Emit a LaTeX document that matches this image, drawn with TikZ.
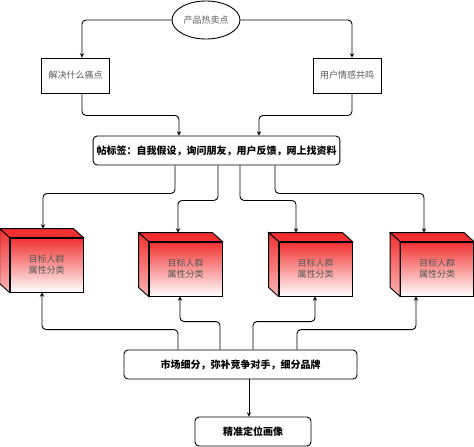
\documentclass[tikz,border=0pt]{standalone}
\usepackage{fontspec}
\setmainfont{Noto Sans CJK SC}
\usetikzlibrary{shapes.geometric}
\definecolor{cubered}{RGB}{242,48,48}
\definecolor{labelgray}{RGB}{90,90,90}

\tikzset{
  link/.style={->, line width=0.9pt, rounded corners=4pt},
  plainbox/.style={draw, line width=0.9pt, minimum width=68pt, minimum height=35pt, text=labelgray},
  roundbox/.style={draw, line width=0.9pt, rounded corners=4pt, minimum height=29pt, font=\bfseries},
  cubefront/.style={draw, line width=0.9pt, minimum width=73pt, minimum height=54pt,
    top color=cubered, bottom color=white, text=labelgray, align=center, inner sep=0pt},
}

\begin{document}
\begin{tikzpicture}[>=stealth, x=1pt, y=-1pt, font=\fontsize{9}{11}\selectfont]
  \useasboundingbox (0,0) rectangle (474,447);
  \node[ellipse, draw, line width=0.9pt, minimum width=68pt, minimum height=38pt, inner sep=0pt, text=labelgray] (hot) at (206,20) {产品热卖点};
  \node[plainbox] (pain) at (75.5,75.5) {解决什么痛点};
  \node[plainbox] (feel) at (347,75.5) {用户情感共鸣};
  \node[roundbox, minimum width=233pt] (tag) at (216.5,150.5) {帖标签：自我假设，询问朋友，用户反馈，网上找资料};
  % four target groups, drawn as boxes with depth
  \node[cubefront] (c1) at (46.5,265) {目标人群\\属性分类};
  \node[cubefront] (c2) at (185.5,269) {目标人群\\属性分类};
  \node[cubefront] (c3) at (315.5,269) {目标人群\\属性分类};
  \node[cubefront] (c4) at (437,269) {目标人群\\属性分类};
  \foreach \c in {c1,c2,c3,c4} {
    \filldraw[line width=0.9pt, fill=cubered] (\c.north west) -- ++(-10pt,9pt)
      -- ([shift={(-10pt,9pt)}]\c.north east) -- (\c.north east) -- cycle;
    \shadedraw[line width=0.9pt, top color=cubered, bottom color=cubered!35] (\c.north west) -- ++(-10pt,9pt)
      -- ([shift={(-10pt,9pt)}]\c.south west) -- (\c.south west) -- cycle;
  }
  \node[roundbox, minimum width=233pt] (mkt) at (240.5,364.5) {市场细分，弥补竞争对手，细分品牌};
  \node[roundbox, minimum width=116pt] (goal) at (253,431.5) {精准定位画像};

  \draw[link] (hot.west) -| ([xshift=6.5pt]pain.north);
  \draw[link] (hot.east) -| ([xshift=5pt]feel.north);
  \draw[link] ([xshift=6.5pt]pain.south) -- ++(0,22) -| ([xshift=-37.5pt]tag.north);
  \draw[link] ([xshift=5pt]feel.south) -- ++(0,22) -| ([xshift=42.5pt]tag.north);
  \draw[link] ([xshift=-41.5pt]tag.south) -- ++(0,28) -| ([xshift=-3.5pt,yshift=9pt]c1.north);
  \draw[link] ([xshift=1.5pt]tag.south) -- ++(0,35) -| ([xshift=-7.5pt,yshift=9pt]c2.north);
  \draw[link] ([xshift=23.5pt]tag.south) -- ++(0,35) -| ([xshift=-19.5pt,yshift=9pt]c3.north);
  \draw[link] ([xshift=58.5pt]tag.south) -- ++(0,28) -| ([xshift=-13pt,yshift=9pt]c4.north);
  \draw[link] ([xshift=-62.5pt]mkt.north) -- ++(0,-20) -| ([xshift=-4.5pt]c1.south);
  \draw[link] ([xshift=-20.5pt]mkt.north) -- ++(0,-28) -| ([xshift=-5.5pt]c2.south);
  \draw[link] ([xshift=12.5pt]mkt.north) -- ++(0,-28) -| ([xshift=-0.5pt]c3.south);
  \draw[link] ([xshift=56.5pt]mkt.north) -- ++(0,-20) -| ([xshift=-21pt]c4.south);
  \draw[link] ([xshift=8.5pt]mkt.south) -- ([xshift=-4pt]goal.north);
\end{tikzpicture}
\end{document}
